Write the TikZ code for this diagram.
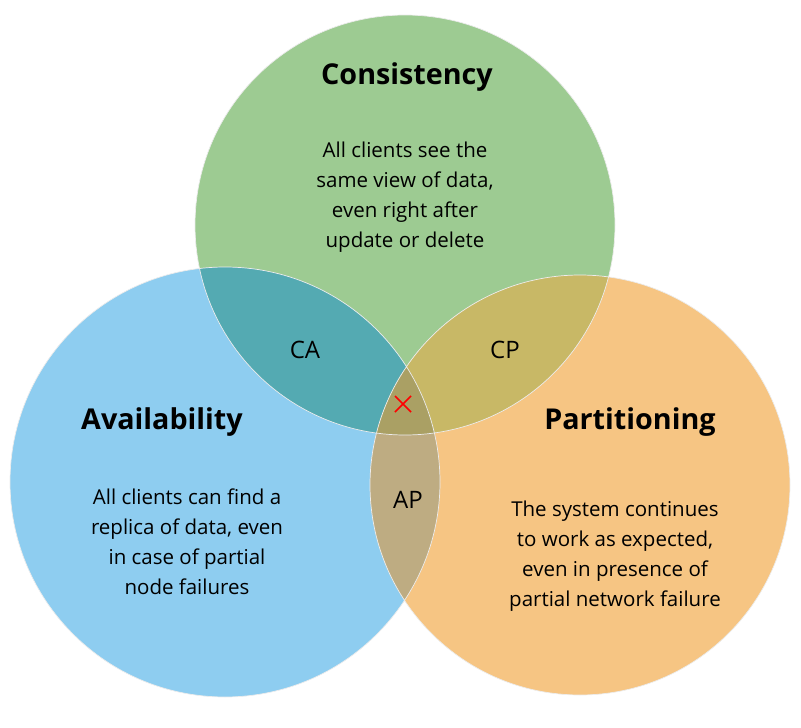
\documentclass[tikz,border=0pt]{standalone}
\usepackage{fontspec}
\setmainfont{Open Sans}
\usetikzlibrary{positioning}
\definecolor{consbg}{RGB}{157,203,146}
\definecolor{availbg}{RGB}{142,205,240}
\definecolor{partbg}{RGB}{246,197,131}
\definecolor{cabg}{RGB}{84,170,178}
\definecolor{cpbg}{RGB}{200,184,102}
\definecolor{apbg}{RGB}{190,172,130}
\definecolor{centerbg}{RGB}{170,160,100}

\begin{document}
\begin{tikzpicture}[x=0.03cm, y=-0.03cm,
    title/.style={font=\fontsize{24.5}{28}\selectfont\bfseries},
    body/.style={align=center, font=\fontsize{17.5}{25.5}\selectfont},
    pair/.style={font=\fontsize{20.5}{22}\selectfont},
]
    \useasboundingbox (0,0) rectangle (801,728);
    \def\consC{(405,225) circle (210)}
    \def\availC{(225,482) circle (215)}
    \def\partC{(580,485) circle (210)}

    \fill[consbg] \consC;
    \fill[availbg] \availC;
    \fill[partbg] \partC;
    \begin{scope}
        \clip \consC; \fill[cabg] \availC;
    \end{scope}
    \begin{scope}
        \clip \consC; \fill[cpbg] \partC;
    \end{scope}
    \begin{scope}
        \clip \availC; \fill[apbg] \partC;
    \end{scope}
    \begin{scope}
        \clip \consC; \clip \availC; \fill[centerbg] \partC;
    \end{scope}
    \draw[white!85!gray, line width=0.6pt] \consC \availC \partC;

    \node[title] (cons) at (407,77) {Consistency};
    \node[body] (consText) at (405,197) {All clients see the\\same view of data,\\even right after\\update or delete};
    \node[title] (avail) at (162,422) {Availability};
    \node[body] (availText) at (187,542) {All clients can find a\\replica of data, even\\in case of partial\\node failures};
    \node[title] (part) at (630,422) {Partitioning};
    \node[body] (partText) at (615,556) {The system continues\\to work as expected,\\even in presence of\\partial network failure};

    \node[pair] (ca) at (305,350) {CA};
    \node[pair] (cp) at (505,350) {CP};
    \node[pair] (ap) at (408,500) {AP};
    % red cross in the middle
    \coordinate (none) at (403,404);
    \draw[red, line width=1.4pt] ([shift={(-8,-8)}]none) -- ([shift={(8,8)}]none)
        ([shift={(-8,8)}]none) -- ([shift={(8,-8)}]none);
\end{tikzpicture}
\end{document}
